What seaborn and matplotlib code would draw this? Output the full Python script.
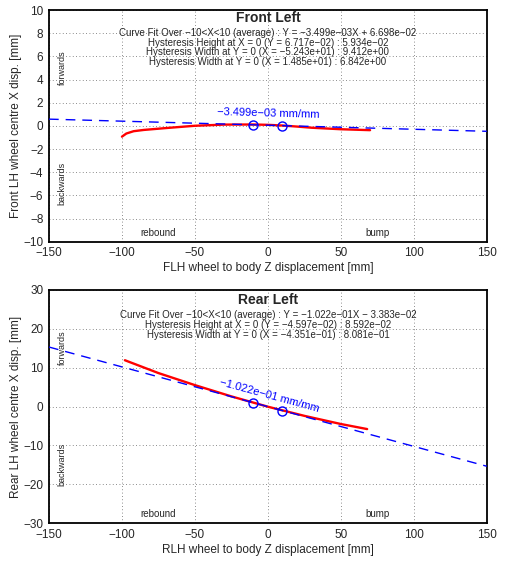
import numpy as np
import pandas as pd
import matplotlib
matplotlib.use("Agg")
import matplotlib.pyplot as plt
import seaborn as sns

sns.set_style("white")
plt.rcParams['font.family'] = ['Liberation Sans', 'DejaVu Sans']

# ---- data ----
front_z = [-100, -97, -92, -85, -70, -50, -30, -10, 0, 10, 20, 30, 50, 70]
front_x = [-0.92, -0.65, -0.45, -0.34, -0.18, 0.02, 0.12, 0.13, 0.10, 0.04, -0.05, -0.15, -0.28, -0.36]
rear_z = [-98, -75, -50, -25, 0, 25, 50, 68]
rear_x = [11.9, 8.6, 5.5, 2.6, -0.05, -2.4, -4.5, -5.8]

front_slope, front_icpt = -3.499e-03, 6.698e-02
rear_slope, rear_icpt = -1.022e-01, -3.383e-02
fit_z = [-150, 150]
circle_z = [-10, 10]

front_text = ["Curve Fit Over \u221210<X<10 (average) : Y = \u22123.499e\u221203X + 6.698e\u221202",
              "Hysteresis Height at X = 0 (Y = 6.717e\u221202) : 5.934e\u221202",
              "Hysteresis Width at Y = 0 (X = \u22125.243e+01) : 9.412e+00",
              "Hysteresis Width at Y = 0 (X = 1.485e+01) : 6.842e+00"]
rear_text = ["Curve Fit Over \u221210<X<10 (average) : Y = \u22121.022e\u221201X \u2212 3.383e\u221202",
             "Hysteresis Height at X = 0 (Y = \u22124.597e\u221202) : 8.592e\u221202",
             "Hysteresis Width at Y = 0 (X = \u22124.351e\u221201) : 8.081e\u221201"]

panels = [
    dict(title="Front Left", z=front_z, x=front_x, slope=front_slope, icpt=front_icpt,
         lines=front_text, ylim=(-10, 10), yticks=np.arange(-10, 11, 2),
         xlabel="FLH wheel to body Z displacement [mm]",
         ylabel="Front LH wheel centre X disp. [mm]",
         slope_label="\u22123.499e\u221203 mm/mm", label_pos=(0, 0.55), title_y=0.966),
    dict(title="Rear Left", z=rear_z, x=rear_z and rear_x, slope=rear_slope, icpt=rear_icpt,
         lines=rear_text, ylim=(-30, 30), yticks=np.arange(-30, 31, 10),
         xlabel="RLH wheel to body Z displacement [mm]",
         ylabel="Rear LH wheel centre X disp. [mm]",
         slope_label="\u22121.022e\u221201 mm/mm", label_pos=(0, 1.7), title_y=0.955),
]

fig = plt.figure(figsize=(5.05, 5.65), dpi=100)
rects = [[0.097, 0.572, 0.867, 0.410], [0.097, 0.074, 0.867, 0.413]]

for rect, p in zip(rects, panels):
    ax = fig.add_axes(rect)
    df = pd.DataFrame({"z": p["z"], "x": p["x"]})
    fit = pd.DataFrame({"z": fit_z, "x": [p["slope"] * v + p["icpt"] for v in fit_z]})
    circ = pd.DataFrame({"z": circle_z, "x": [p["slope"] * v + p["icpt"] for v in circle_z]})
    sns.lineplot(data=df, x="z", y="x", ax=ax, color="red", lw=1.7, sort=False, zorder=3)
    sns.lineplot(data=fit, x="z", y="x", ax=ax, color="blue", lw=1.0, zorder=4,
                 linestyle=(0, (7, 5)))
    ax.plot(circ["z"], circ["x"], 'o', mfc='none', mec='blue', ms=6.5, mew=1.0, zorder=5)

    ymin, ymax = p["ylim"]
    span = ymax - ymin
    ax.set_xlim(-150, 150)
    ax.set_ylim(ymin, ymax)
    xt = np.arange(-150, 151, 50)
    ax.set_xticks(xt)
    ax.set_yticks(p["yticks"])
    ax.set_xticklabels([str(int(v)).replace('-', '\u2212') for v in xt])
    ax.set_yticklabels([str(int(v)).replace('-', '\u2212') for v in p["yticks"]])
    ax.tick_params(labelsize=8.5, direction='in', length=3)
    ax.tick_params(axis='x', pad=4)
    ax.tick_params(axis='y', pad=4)
    ax.grid(True, color='black', linestyle=(0, (1, 3)), lw=0.6, alpha=0.6)
    for s in ax.spines.values():
        s.set_linewidth(1.3)
        s.set_color('black')
    ax.set_xlabel(p["xlabel"], fontsize=8.5, labelpad=2)
    ax.set_ylabel(p["ylabel"], fontsize=8.5, labelpad=1)

    ax.text(0.5, p["title_y"], p["title"], transform=ax.transAxes, ha='center', va='center',
            fontsize=10, fontweight='bold')
    for i, line in enumerate(p["lines"]):
        ax.text(0.5, p["title_y"] - 0.064 - i * 0.042, line, transform=ax.transAxes,
                ha='center', va='center', fontsize=7)
    ax.text(-141, ymin + span * 0.75, "forwards", rotation=90, ha='center', va='center', fontsize=6.5)
    ax.text(-141, ymin + span * 0.25, "backwards", rotation=90, ha='center', va='center', fontsize=6.5)
    ax.text(-75, ymin + span * 0.04, "rebound", ha='center', va='center', fontsize=7)
    ax.text(75, ymin + span * 0.04, "bump", ha='center', va='center', fontsize=7)

    lx, ly = p["label_pos"]
    ax.text(lx, p["slope"] * lx + p["icpt"] + ly, p["slope_label"], color='blue', fontsize=8,
            ha='center', va='bottom', rotation=np.degrees(np.arctan(p["slope"])),
            rotation_mode='anchor', transform_rotates_text=True)

fig.savefig("out.png", dpi=100)
